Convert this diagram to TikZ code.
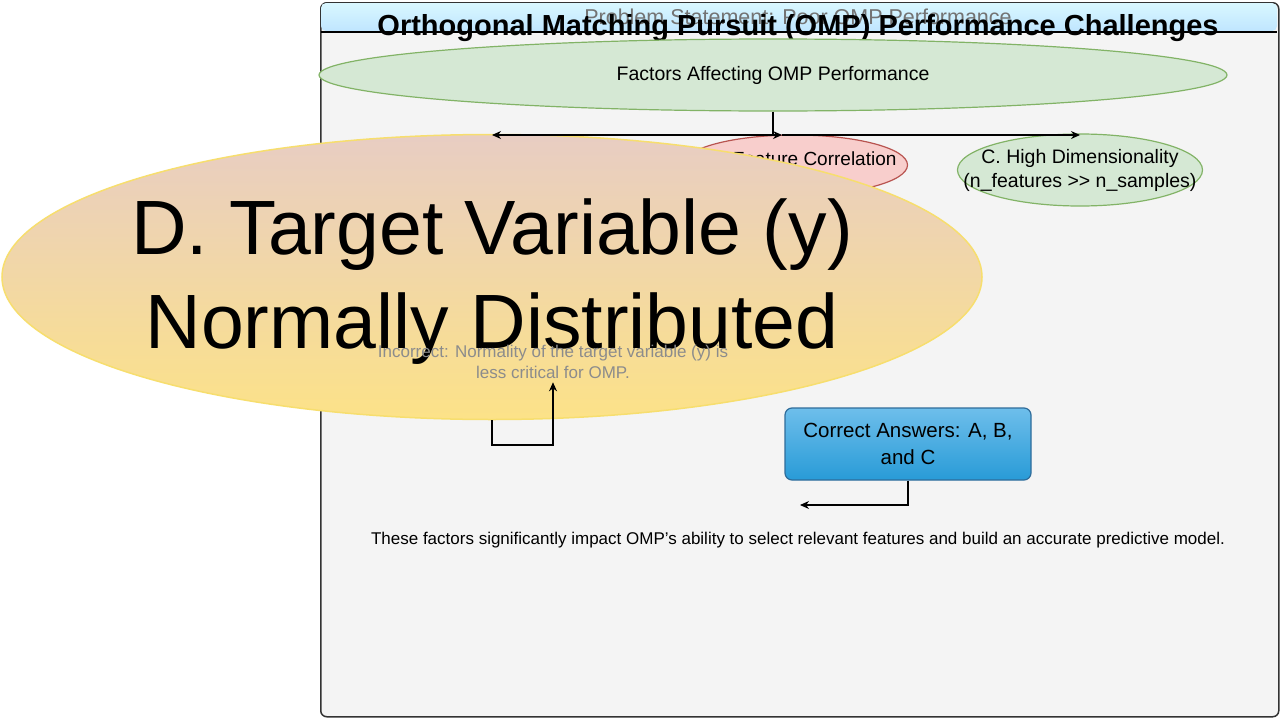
\documentclass[tikz,border=0pt]{standalone}
\usepackage{fontspec}
\setmainfont{Liberation Sans}
\usetikzlibrary{shapes.geometric,arrows.meta}
\definecolor{panel}{HTML}{F4F4F4}
\definecolor{gfill}{HTML}{D5E8D4}\definecolor{gdraw}{HTML}{82B366}
\definecolor{rfill}{HTML}{F8CECC}\definecolor{rdraw}{HTML}{B85450}
\definecolor{bdraw}{HTML}{2F6C9A}
\tikzset{
 ell/.style={ellipse,draw=gdraw,fill=gfill,line width=1.2pt,inner sep=0pt},
 arr/.style={-{Stealth[length=9pt,width=8pt]},line width=1.2pt},
 ln/.style={line width=1.2pt},
}
\begin{document}
\begin{tikzpicture}[x=1pt,y=-1pt]
\useasboundingbox (0,0) rectangle (1280,720);
\fill[white] (0,0) rectangle (1280,720);
\node[draw=black!80,line width=1.5pt,rounded corners=6pt,fill=panel,minimum width=958pt,minimum height=714pt,anchor=north west,inner sep=0pt] (panel) at (320,2) {};
\shade[top color=blue!20!cyan!15,bottom color=blue!40!cyan!25,rounded corners=5pt] (321,3) rectangle (1277,31);
\draw[line width=1.2pt] (321,32) -- (1277,32);
\node[text=black!55,font=\fontsize{21.5}{22}\selectfont] (hdr) at (798,17) {Problem Statement: Poor OMP Performance};
\node[font=\fontsize{29}{30}\selectfont\bfseries] (title) at (798,28) {Orthogonal Matching Pursuit (OMP) Performance Challenges};
\node[ell,minimum width=908pt,minimum height=72pt] (fac) at (773,75) {};
\node[font=\fontsize{19.5}{22}\selectfont] (fact) at (fac) {Factors Affecting OMP Performance};
\node[ell,draw=rdraw,fill=rfill,minimum width=225pt,minimum height=60pt] (b) at (795,165) {};
\node[font=\fontsize{19}{22}\selectfont] (bt) at (803,159) {B. Feature Correlation};
\node[ell,minimum width=245pt,minimum height=72pt] (c) at (1080,170) {};
\node[font=\fontsize{19.5}{24}\selectfont,align=center] (ct) at (c) {C. High Dimensionality\\(n\_features >{}> n\_samples)};
\node[ellipse,minimum width=980pt,minimum height=285pt,inner sep=0pt,draw={rgb,255:red,247;green,222;blue,110},line width=1.5pt,top color={rgb,255:red,232;green,205;blue,195},bottom color={rgb,255:red,252;green,226;blue,136}] (d) at (492,277) {};
\node[font=\fontsize{77}{94}\selectfont,align=center] (dt) at (492,282) {D. Target Variable (y)\\Normally Distributed};
\coordinate (j) at (773,135);
\coordinate (l) at (492,135);
\coordinate (m) at (782,135);
\coordinate (r) at (1080,135);
\draw[ln] (fac.south) -- (j);
\draw[arr] (j) -- (l);
\draw[arr] (j) -- (m);
\draw[arr] (m) -- (r);
\node[text=black!45,font=\fontsize{17}{21}\selectfont,align=center] (inc) at (553,362) {Incorrect: Normality of the target variable (y) is\\less critical for OMP.};
\coordinate (p1) at (492,420);
\coordinate (p2) at (492,445);
\coordinate (p3) at (553,445);
\draw[arr] (p1) -- (p2) -- (p3) -- (inc.south -| p3);
\node[draw=bdraw,line width=1.2pt,rounded corners=7pt,top color={rgb,255:red,110;green,190;blue,235},bottom color={rgb,255:red,40;green,155;blue,215},minimum width=246pt,minimum height=72pt,inner sep=0pt] (ans) at (908,444) {};
\node[align=center,font=\fontsize{20.5}{27}\selectfont] (anst) at (ans) {Correct Answers: A, B,\\and C};
\coordinate (q1) at (908,505);
\coordinate (q2) at (800,505);
\draw[arr] (ans.south) -- (q1) -- (q2);
\node[font=\fontsize{17}{19}\selectfont] (foot) at (798,540) {These factors significantly impact OMP's ability to select relevant features and build an accurate predictive model.};
\end{tikzpicture}
\end{document}
